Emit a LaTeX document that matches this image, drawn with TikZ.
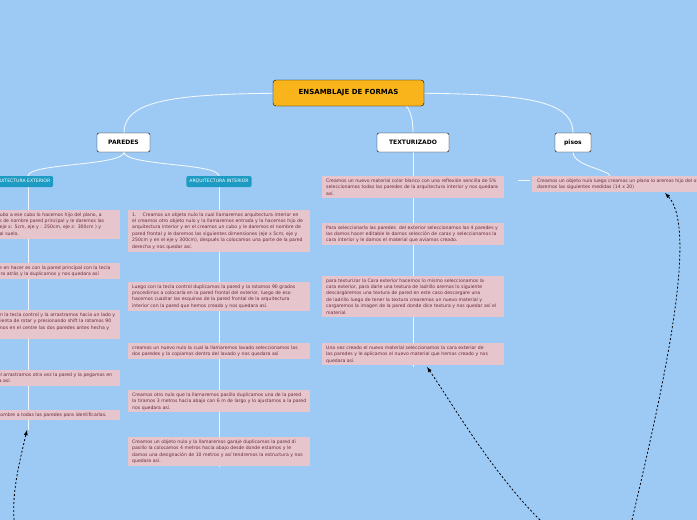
\documentclass[tikz,border=0pt]{standalone}
\usepackage{fontspec}
\setmainfont{DejaVu Sans}
\newcommand\mynohyph{\hyphenpenalty=10000 \exhyphenpenalty=10000 \relax}
\begin{document}
\begin{tikzpicture}[x=1pt,y=-1pt,
 note/.style={fill=notepink,text=notetext,font=\fontsize{4.6}{6.4}\selectfont\mynohyph,align=left,inner xsep=4pt,inner ysep=2.5pt,anchor=north west},
 topic/.style={fill=white,draw=black,rounded corners=2pt,font=\fontsize{6}{7}\selectfont\bfseries,minimum height=19pt},
 sub/.style={fill=subteal,text=white,rounded corners=2pt,font=\fontsize{4.6}{6}\selectfont,minimum height=11pt,inner xsep=3pt},
 wl/.style={draw=white!85!bgblue,line width=0.9pt},
 dar/.style={line width=0.8pt,-latex,dash pattern=on 2pt off 2pt}]
\definecolor{bgblue}{HTML}{9CCAF4}
\definecolor{notepink}{HTML}{E6C5CC}
\definecolor{notetext}{HTML}{6A2A3C}
\definecolor{subteal}{HTML}{1E9BC2}
\definecolor{rootor}{HTML}{F8B41A}
\fill[bgblue] (0,0) rectangle (697,520);
\useasboundingbox (0,0) rectangle (697,520);
\clip (0,0) rectangle (697,520);
\draw[wl] (349,93) .. controls (200,93) and (124,93) .. (124,133);
\draw[wl] (349,93) .. controls (400,93) and (413,100) .. (413,133);
\draw[wl] (349,93) .. controls (500,93) and (573,93) .. (573,133);
\node[fill=rootor,draw=black,rounded corners=3pt,minimum width=151pt,minimum height=26pt,font=\fontsize{7}{8}\selectfont\bfseries] (root) at (348.5,93) {ENSAMBLAJE DE FORMAS};
\draw[wl] (124,152) .. controls (124,166) and (28,163) .. (28,176);
\draw[wl] (124,152) .. controls (124,166) and (219,163) .. (219,176);
\draw[wl] (573,152) .. controls (573,166) and (610,170) .. (610,176);
\draw[wl] (28,187) -- (28,430);
\draw[wl] (219,187) -- (219,467);
\draw[wl] (413,152) -- (413,367);
\draw[wl] (518,180) -- (530,180);
\node[topic,minimum width=53pt] (par) at (123.5,142.5) {PAREDES};
\node[topic,minimum width=72pt] (tex) at (413,142.5) {TEXTURIZADO};
\node[topic,minimum width=36pt] (pis) at (573,142.5) {pisos};
\node[sub] (ae) at (20,181.5) {ARQUITECTURA EXTERIOR};
\node[sub] (ai) at (219,181.5) {ARQUITECTURA INTERIOR};
\begin{scope}[every node/.append style={note,text width=174pt,minimum width=182pt}]
\node (i1) at (128,210) {1.\quad\ Creamos un objeto nulo la cual llamaremos arquitectura interior en el creamos otro objeto nulo y la llamaremos entrada y la hacemos hijo de arquitectura interior y en el creamos un cubo y le daremos el nombre de pared frontal y le daremos las siguientes dimensiones (eje x 5cm, eje y 250cm y en el eje y 300cm), después la colocamos una parte de la pared derecha y nos quedar así.};
\node (i2) at (128,282) {Luego con la tecla control duplicamos la pared y la rotamos 90 grados procedimos a colocarla en la pared frontal del exterior, luego de eso hacemos cuadrar las esquinas de la pared frontal de la arquitectura interior con la pared que hemos creado y nos quedara así.};
\node (i3) at (128,343) {creamos un nuevo nulo la cual la llamaremos lavado seleccionamos las dos paredes y la copiamos dentro del lavado y nos quedara así};
\node (i4) at (128,390) {Creamos otro nulo que la llamaremos pasillo duplicamos una de la pared la tiramos 3 metros hacia abajo con 6 m de largo y lo ajustamos a la pared nos quedara así.};
\node (i5) at (128,437) {Creamos un objeto nulo y la llamaremos garaje duplicamos la pared di pasillo la colocamos 4 metros hacia abajo desde donde estamos y le damos una designación de 10 metros y así tendremos la estructura y nos quedara así.};
\node (t1) at (322,176) {Creamos un nuevo material color blanco con una reflexión sencilla de 5\% seleccionamos todas las paredes de la arquitectura interior y nos quedara así.};
\node (t2) at (322,223) {Para seleccionarla las paredes\ \ del exterior seleccionamos las 4 paredes y las damos hacer editable le damos selección de caras y seleccionamos la cara interior y le damos el material que aviamos creado.};
\node (t3) at (322,276) {para texturizar la Cara exterior hacemos lo mismo seleccionamos la cara exterior, para darle una textura de ladrillo aremos lo siguiente descargáremos una textura de pared en este caso descargare una de ladrillo luego de tener la textura crearemos un nuevo material y cargaremos la imagen de la pared donde dice textura y nos quedar así el material.};
\node (t4) at (322,343) {Una vez creado el nuevo material seleccionamos la cara exterior de las paredes y le aplicamos el nuevo material que hemos creado y nos quedara así.};
\node (e1) at (-62,210) {Creamos un plano y un cubo a ese cubo lo hacemos hijo del plano, a las paredes le pondremos de nombre pared principal y le daremos las siguientes dimensiones (eje x: 5cm, eje y : 250cm, eje z: 300cm ) y terminamos ajustándolo al suelo.};
\node (e2) at (-62,263) {Lo que haremos siguiente en hacer es con la pared principal con la tecla control la arrastramos para atrás y la duplicamos y nos quedara así};
\node (e3) at (-62,310) {Después la duplicamo con la tecla control y la arrastramos hacia un lado y la rotamos con la herramienta de rotar y presionando shift la rotamos 90 grados y luego la colocamos en el centre las dos paredes antes hecha y nos quedara así.};
\node (e4) at (-62,370) {Luego con la tecla control arrastramos otra vez la pared y la pegamos en el extremo y nos quedara así.};
\node (e5) at (-62,410) {Y por último a ponerles nombre a todas las paredes para identificarlas.};
\end{scope}
\node[note,text width=200pt,minimum width=210pt] (p1) at (532,176) {Creamos un objeto nulo luego creamos un plano lo aremos hijo del objeto nulo y le daremos las siguientes medidas (14 x 20)};
\coordinate (a1) at (540,520);
\coordinate (a2) at (632,520);
\coordinate (a3) at (14,520);
\draw[dar] (a1) .. controls (490,470) and (450,400) .. (427,367);
\draw[dar] (a2) .. controls (660,400) and (700,230) .. (665,193);
\draw[dar] (a3) .. controls (12,490) and (20,460) .. (27,430);
\end{tikzpicture}
\end{document}
